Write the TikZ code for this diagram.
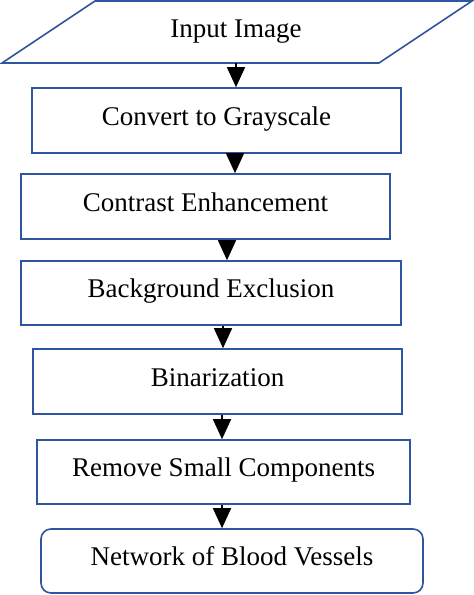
\documentclass[tikz,border=0pt]{standalone}
\usepackage{fontspec}
\setmainfont{Liberation Serif}
\usetikzlibrary{arrows.meta}

\definecolor{boxblue}{RGB}{45,85,160}

\begin{document}
\begin{tikzpicture}[x=1pt,y=-1pt,
    stepbox/.style={draw=boxblue, line width=1.6pt, minimum height=65pt, inner sep=0pt, text height=19pt, text depth=10pt, font=\fontsize{27}{30}\selectfont},
    arr/.style={line width=1.6pt, -{Triangle[width=18pt,length=20pt]}}]
        \useasboundingbox (0,0) rectangle (474,595);

        \draw[draw=boxblue, line width=1.6pt] (95,1) -- (472,1) -- (379,63) -- (2,63) -- cycle;
        \node[inner sep=0pt, minimum height=62pt, text height=19pt, text depth=8pt, font=\fontsize{27}{30}\selectfont] (in) at (236,32) {Input Image};

        \node[stepbox, minimum width=369pt] (gray) at (216.5,120.5) {Convert to Grayscale};
        \node[stepbox, minimum width=369pt] (cont) at (205.5,206.5) {Contrast Enhancement};
        \node[stepbox, minimum width=380pt, minimum height=64pt] (back) at (211,293) {Background Exclusion};
        \node[stepbox, minimum width=369pt] (bin) at (217.5,381.5) {Binarization};
        \node[stepbox, minimum width=373pt, minimum height=64pt] (rem) at (223.5,472) {Remove Small Components};
        \node[stepbox, minimum width=382pt, minimum height=64pt, rounded corners=10pt] (net) at (232,561) {Network of Blood Vessels};

        \draw[arr] (in.south) -- ([xshift=19.5pt]gray.north);
        \draw[arr] ([xshift=18.5pt]gray.south) -- ([xshift=29.5pt]cont.north);
        \draw[arr] ([xshift=21.5pt]cont.south) -- ([xshift=16pt]back.north);
        \draw[arr] ([xshift=12pt]back.south) -- ([xshift=5.5pt]bin.north);
        \draw[arr] ([xshift=4.5pt]bin.south) -- ([xshift=-1.5pt]rem.north);
        \draw[arr] ([xshift=-1.5pt]rem.south) -- ([xshift=-10pt]net.north);
    \end{tikzpicture}
\end{document}
